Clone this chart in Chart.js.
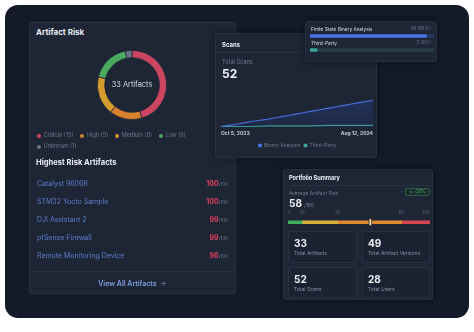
<!DOCTYPE html>
<html>
<head>
<meta charset="utf-8">
<script src="https://cdn.jsdelivr.net/npm/chart.js@4.4.1/dist/chart.umd.min.js"></script>
<style>
  html, body { margin: 0; padding: 0; background: #fff; }
  body { width: 474px; height: 332px; position: relative; overflow: hidden; font-family: Inter, "Noto Sans", sans-serif; }
  .frame { position: absolute; left: 5px; top: 5px; width: 464px; height: 313px; background: #141a2a; border-radius: 13px; }
  .card { position: absolute; background: #1e2636; border: 1px solid #283042; border-radius: 3px; box-sizing: border-box; }
  .abs { position: absolute; white-space: nowrap; line-height: 1; }
  .title { color: #e9ecf2; font-weight: 700; }
  .muted { color: #6f7788; }
  .rule { position: absolute; left: 0; right: 0; height: 1px; background: #283042; }
  canvas { position: absolute; display: block; }
  #legend { position: absolute; left: 7px; top: 109px; width: 192px; display: flex; flex-wrap: wrap; column-gap: 7px; row-gap: 5px; font-size: 5.6px; color: #6f7788; }
  #legend span.dot { display: inline-block; width: 4px; height: 4px; border-radius: 50%; margin-right: 2.5px; vertical-align: -0.5px; }
  .row { position: absolute; left: 7px; right: 7px; height: 10px; }
  .row .name { position: absolute; left: 0; top: 1px; font-size: 7px; color: #5b7dcc; }
  .row .score { position: absolute; right: 0; top: 1px; font-size: 7px; font-weight: 700; color: #e0405a; }
  .row .score small { font-size: 4.6px; font-weight: 400; color: #6f7788; }
  .tile { position: absolute; background: #1b2232; border: 1px solid #283042; border-radius: 2px; box-sizing: border-box; }
  .tile .v { position: absolute; left: 5px; top: 6px; font-size: 10px; font-weight: 700; color: #eef0f4; line-height: 1; }
  .tile .l { position: absolute; left: 5px; top: 19px; font-size: 5px; color: #8a92a3; line-height: 1; white-space: nowrap; }
</style>
</head>
<body>
<div class="frame"></div>

<!-- Artifact risk card -->
<div class="card" style="left:29px; top:22px; width:207px; height:272px;">
  <div class="abs title" style="left:6px; top:5px; font-size:8px;">Artifact Risk</div>
  <canvas id="riskDonut" width="74" height="74" style="left:65px; top:25px;"></canvas>
  <div id="donutCenter" class="abs" style="left:65px; top:58px; width:74px; text-align:center; font-size:7.4px; color:#d9dde6;"></div>
  <div id="legend"></div>
  <div class="abs title" style="left:6px; top:136px; font-size:7.6px;">Highest Risk Artifacts</div>
  <div id="riskRows"></div>
  <div class="rule" style="top:248px;"></div>
  <div class="abs" style="left:0; width:205px; top:257px; text-align:center; font-size:7px; font-weight:600; color:#7f9ddd;">View All Artifacts &nbsp;<span style="color:#6f7788;">&rarr;</span></div>
</div>

<!-- Scans card -->
<div class="card" style="left:215px; top:33px; width:162px; height:125px; box-shadow:0 0 6px rgba(0,0,0,0.45);">
  <div class="abs title" style="left:6px; top:8px; font-size:6px;">Scans</div>
  <div class="rule" style="top:18px;"></div>
  <div class="abs muted" style="left:6px; top:26px; font-size:5.6px;">Total Scans</div>
  <div id="scanTotal" class="abs" style="left:6px; top:34px; font-size:12px; font-weight:700; color:#eef0f4;"></div>
  <canvas id="scanChart" width="158" height="83" style="left:2px; top:41px;"></canvas>
</div>

<!-- Scan source breakdown card -->
<div class="card" style="left:305px; top:21px; width:132px; height:41px; box-shadow:0 0 6px rgba(0,0,0,0.5);">
  <div id="srcLabel0" class="abs" style="left:5px; top:5px; font-size:4.8px; color:#d5d9e2;"></div>
  <div id="srcValue0" class="abs muted" style="right:5px; top:5px; font-size:4.6px;"></div>
  <canvas id="srcBar0" width="124" height="4" style="left:4px; top:12px;"></canvas>
  <div id="srcLabel1" class="abs" style="left:5px; top:19px; font-size:4.8px; color:#d5d9e2;"></div>
  <div id="srcValue1" class="abs muted" style="right:5px; top:19px; font-size:4.6px;"></div>
  <canvas id="srcBar1" width="124" height="4" style="left:4px; top:26px;"></canvas>
</div>

<!-- Portfolio summary card -->
<div class="card" style="left:283px; top:169px; width:150px; height:131px; box-shadow:0 0 6px rgba(0,0,0,0.45);">
  <div class="abs title" style="left:5px; top:6px; font-size:5.6px;">Portfolio Summary</div>
  <div class="rule" style="top:15px;"></div>
  <div class="abs muted" style="left:5px; top:21px; font-size:5px;">Average Artifact Risk</div>
  <div class="abs" style="left:5px; top:28px; font-size:10px; font-weight:700; color:#eef0f4;"><span id="avgRisk"></span> <span style="font-size:4.6px; font-weight:400; color:#8a92a3;">/100</span></div>
  <div class="abs" style="left:121px; top:18px; width:25px; height:8px; border:1px solid #2f5c45; background:#1c2e2c; border-radius:2px; box-sizing:border-box; font-size:4.4px; color:#4fb57a; text-align:center; line-height:6px;">&#8600; -32%</div>
  <canvas id="riskGauge" width="146" height="19" style="left:2px; top:39px;"></canvas>
  <div id="tiles"></div>
</div>

<script>
// risk breakdown
const riskLevels = ['Critical', 'High', 'Medium', 'Low', 'Unknown'];
const riskCounts = [15, 5, 6, 6, 1];
const riskColors = ['#cc4560', '#d9812e', '#d59b2c', '#4caa5e', '#6e7383'];

// top artifacts
const artifactNames = ['Catalyst 9606R', 'STM32 Yocto Sample', 'DJI Assistant 2', 'pfSense Firewall', 'Remote Monitoring Device'];
const artifactScores = [100, 100, 99, 99, 96];

// cumulative scans by source
const scanDates = ['Oct 5, 2023', 'Nov 2, 2023', 'Dec 7, 2023', 'Jan 11, 2024', 'Feb 8, 2024', 'Mar 14, 2024',
  'Apr 11, 2024', 'May 9, 2024', 'Jun 13, 2024', 'Jul 11, 2024', 'Aug 12, 2024'];
const binaryScans = [1, 5, 10, 14, 19, 24, 29, 34, 39, 44, 49];
const thirdPartyScans = [1, 1, 1, 2, 2, 2, 2, 3, 3, 3, 3];

// source totals
const sourceNames = ['Finite State Binary Analysis', 'Third-Party'];
const sourceCounts = [49, 3];
const sourceColors = ['#4a72e0', '#3aa597'];
const sourceTracks = ['#2a3a66', '#26404a'];

// risk gauge
const riskBandEdges = [0, 10, 35, 80, 100];
const riskBandColors = ['#3fae5a', '#d8b23a', '#de8a32', '#d8454f'];
const averageRisk = 58;

// summary tiles
const statLabels = ['Total Artifacts', 'Total Artifact Versions', 'Total Scans', 'Total Users'];
const statValues = [33, 49, 52, 28];

Chart.defaults.font.family = 'Inter, "Noto Sans", sans-serif';
Chart.defaults.animation = false;
Chart.defaults.responsive = false;
Chart.defaults.plugins.tooltip.enabled = false;

// ===== Donut =====
const totalArtifacts = riskCounts.reduce((a, b) => a + b, 0);
document.getElementById('donutCenter').textContent = totalArtifacts + ' Artifacts';

new Chart(document.getElementById('riskDonut'), {
  type: 'doughnut',
  data: {
    labels: riskLevels,
    datasets: [{
      data: riskCounts,
      backgroundColor: riskColors,
      borderColor: '#1e2636',
      borderWidth: 0.8
    }]
  },
  options: {
    cutout: '79%',
    layout: { padding: 2 },
    plugins: { legend: { display: false } }
  }
});

const legend = document.getElementById('legend');
riskLevels.forEach((lvl, i) => {
  const item = document.createElement('div');
  item.innerHTML = `<span class="dot" style="background:${riskColors[i]}"></span>${lvl} (${riskCounts[i]})`;
  legend.appendChild(item);
});

// ===== Highest risk list =====
const rows = document.getElementById('riskRows');
artifactNames.forEach((name, i) => {
  const r = document.createElement('div');
  r.className = 'row';
  r.style.top = (155 + i * 18) + 'px';
  r.innerHTML = `<span class="name">${name}</span><span class="score">${artifactScores[i]}<small>/100</small></span>`;
  rows.appendChild(r);
});

// ===== Scans chart =====
document.getElementById('scanTotal').textContent = binaryScans[binaryScans.length - 1] + thirdPartyScans[thirdPartyScans.length - 1];

new Chart(document.getElementById('scanChart'), {
  type: 'line',
  data: {
    labels: scanDates,
    datasets: [{
      label: 'Binary Analysis',
      data: binaryScans,
      borderColor: '#4a6ee0',
      borderWidth: 1.1,
      pointRadius: 0,
      tension: 0.15,
      fill: 'origin',
      backgroundColor: (ctx) => {
        const { ctx: c, chartArea } = ctx.chart;
        if (!chartArea) return 'rgba(58,92,200,0.3)';
        const g = c.createLinearGradient(0, chartArea.top, 0, chartArea.bottom);
        g.addColorStop(0, 'rgba(56,88,200,0.6)');
        g.addColorStop(1, 'rgba(40,60,140,0.12)');
        return g;
      }
    }, {
      label: 'Third-Party',
      data: thirdPartyScans,
      borderColor: '#3aa597',
      backgroundColor: '#3aa597',
      borderWidth: 1.1,
      pointRadius: 0,
      fill: false
    }]
  },
  options: {
    layout: { padding: { left: 3, right: 2, top: 0, bottom: 0 } },
    scales: {
      x: {
        grid: { display: false, drawTicks: false },
        border: { display: false },
        ticks: {
          color: '#c9ced8',
          font: { size: 5, weight: 'bold' },
          maxRotation: 0,
          autoSkip: false,
          align: 'inner',
          padding: 3,
          callback: function (v, i, ticks) {
            return (i === 0 || i === ticks.length - 1) ? this.getLabelForValue(v) : '';
          }
        }
      },
      y: { display: false, min: 0, max: 95 }
    },
    plugins: {
      legend: {
        position: 'bottom',
        labels: {
          usePointStyle: true,
          pointStyle: 'circle',
          boxWidth: 3,
          boxHeight: 3,
          padding: 4,
          color: '#6f7788',
          font: { size: 5 },
          generateLabels: (chart) => chart.data.datasets.map((ds, i) => ({
            text: ds.label,
            fillStyle: ds.borderColor,
            strokeStyle: ds.borderColor,
            lineWidth: 0,
            pointStyle: 'circle',
            fontColor: '#6f7788',
            datasetIndex: i
          }))
        }
      }
    }
  }
});

// ===== Source bars =====
const sourceTotal = sourceCounts.reduce((a, b) => a + b, 0);
sourceNames.forEach((name, i) => {
  const pct = sourceCounts[i] / sourceTotal * 100;
  document.getElementById('srcLabel' + i).textContent = name;
  document.getElementById('srcValue' + i).textContent = `${sourceCounts[i]} (${Math.round(pct)}%)`;
  new Chart(document.getElementById('srcBar' + i), {
    type: 'bar',
    data: {
      labels: [name],
      datasets: [
        { data: [pct], backgroundColor: sourceColors[i], borderRadius: 1.5, borderSkipped: false, order: 0 },
        { data: [100], backgroundColor: sourceTracks[i], borderRadius: 1.5, borderSkipped: false, order: 1 }
      ]
    },
    options: {
      indexAxis: 'y',
      datasets: { bar: { grouped: false, barPercentage: 1, categoryPercentage: 1, maxBarThickness: 3 } },
      scales: { x: { display: false, min: 0, max: 100 }, y: { display: false } },
      plugins: { legend: { display: false } }
    }
  });
});

// ===== Risk gauge =====
document.getElementById('avgRisk').textContent = averageRisk;

const riskMarker = {
  id: 'riskMarker',
  afterDatasetsDraw(chart) {
    const { ctx, scales } = chart;
    const x = scales.x.getPixelForValue(averageRisk);
    const y = scales.y.getPixelForValue(0);
    ctx.save();
    ctx.fillStyle = '#efe2c2';
    ctx.strokeStyle = '#3a2a1a';
    ctx.lineWidth = 0.8;
    ctx.beginPath();
    ctx.rect(x - 1.3, y - 3.5, 2.6, 7);
    ctx.fill();
    ctx.stroke();
    ctx.restore();
  }
};

new Chart(document.getElementById('riskGauge'), {
  type: 'bar',
  data: {
    labels: ['risk'],
    datasets: riskBandColors.map((col, i) => ({
      data: [[riskBandEdges[i], riskBandEdges[i + 1]]],
      backgroundColor: col,
      borderSkipped: false
    }))
  },
  options: {
    indexAxis: 'y',
    layout: { padding: { left: 2, right: 2 } },
    datasets: { bar: { grouped: false, barPercentage: 1, categoryPercentage: 1, maxBarThickness: 3 } },
    scales: {
      x: {
        position: 'top',
        min: 0,
        max: 100,
        grid: { display: false, drawTicks: false },
        border: { display: false },
        afterBuildTicks: (axis) => { axis.ticks = riskBandEdges.map(v => ({ value: v })); },
        ticks: { color: '#5d6576', font: { size: 4.6 }, padding: 1, align: 'inner', maxRotation: 0 }
      },
      y: { display: false }
    },
    plugins: { legend: { display: false } }
  },
  plugins: [riskMarker]
});

// ===== Summary tiles =====
const tiles = document.getElementById('tiles');
const tileBoxes = [[4, 61, 69, 32], [78, 61, 68, 32], [4, 97, 69, 31], [78, 97, 68, 31]];
statLabels.forEach((lab, i) => {
  const [l, t, w, h] = tileBoxes[i];
  const d = document.createElement('div');
  d.className = 'tile';
  d.style.cssText = `left:${l}px; top:${t}px; width:${w}px; height:${h}px;`;
  d.innerHTML = `<div class="v">${statValues[i]}</div><div class="l">${lab}</div>`;
  tiles.appendChild(d);
});
</script>
</body>
</html>
